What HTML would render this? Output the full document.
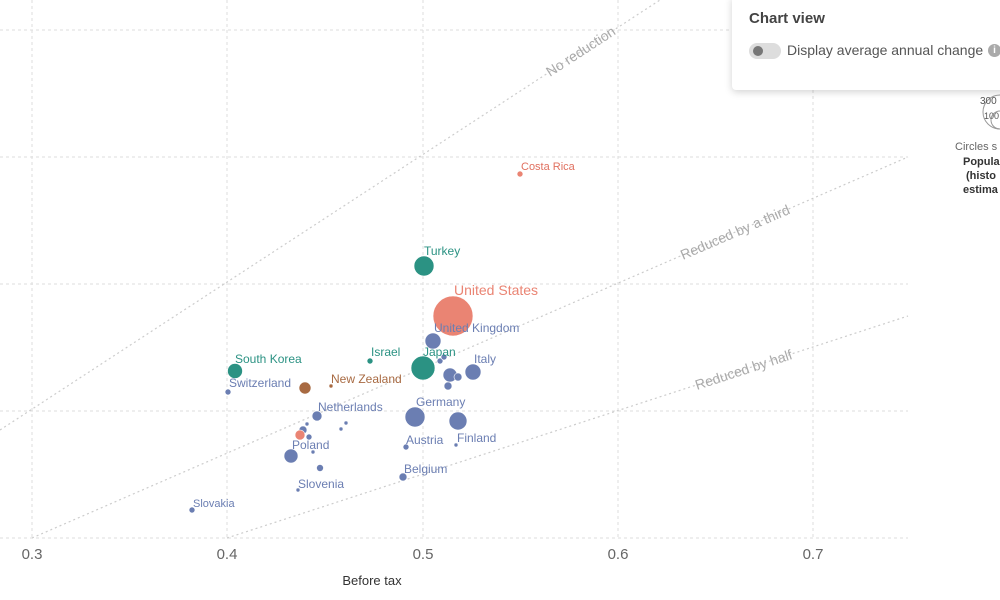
<!DOCTYPE html>
<html><head><meta charset="utf-8"><style>
body{margin:0;width:1000px;height:600px;overflow:hidden;background:#fff;font-family:"Liberation Sans",sans-serif}
svg{position:absolute;left:0;top:0}
.panel{position:absolute;left:732px;top:-4px;width:290px;height:94px;background:#fff;box-shadow:0 2px 8px rgba(0,0,0,.18);border-radius:4px}
</style></head><body>
<svg width="1000" height="600" font-family="Liberation Sans, sans-serif">
<g stroke="#ddd" stroke-dasharray="3,3" stroke-width="1">
<line x1="0" y1="30" x2="908" y2="30"/><line x1="0" y1="157" x2="908" y2="157"/><line x1="0" y1="284" x2="908" y2="284"/><line x1="0" y1="411" x2="908" y2="411"/><line x1="0" y1="538" x2="908" y2="538"/>
<line x1="32" y1="0" x2="32" y2="538"/><line x1="227" y1="0" x2="227" y2="538"/><line x1="423" y1="0" x2="423" y2="538"/><line x1="618" y1="0" x2="618" y2="538"/><line x1="813" y1="0" x2="813" y2="538"/>
</g>
<g stroke="#ccc" stroke-dasharray="2,3" stroke-width="1.2">
<line x1="0" y1="430" x2="660" y2="0"/>
<line x1="32" y1="538" x2="908" y2="157"/>
<line x1="227" y1="538" x2="908" y2="316"/>
</g>
<g fill="#aaa" font-size="14">
<text transform="translate(550,77) rotate(-33)">No reduction</text>
<text transform="translate(683,260) rotate(-23.4)">Reduced by a third</text>
<text transform="translate(697,390) rotate(-18)">Reduced by half</text>
</g>
<g fill="#6b7eb2" stroke="#fff" stroke-width="0.6">
<circle cx="450" cy="375" r="7"/><circle cx="458" cy="377" r="4"/><circle cx="448" cy="386" r="4"/><circle cx="440" cy="361" r="3"/><circle cx="444" cy="357" r="3"/>
<circle cx="433" cy="341" r="8"/><circle cx="473" cy="372" r="8"/><circle cx="228" cy="392" r="3"/><circle cx="317" cy="416" r="5"/>
<circle cx="415" cy="417" r="10"/><circle cx="458" cy="421" r="9"/><circle cx="456" cy="445" r="2"/><circle cx="406" cy="447" r="3"/>
<circle cx="303" cy="430" r="4"/><circle cx="307" cy="424" r="2"/><circle cx="309" cy="437" r="3"/><circle cx="313" cy="452" r="2"/><circle cx="341" cy="429" r="2"/><circle cx="346" cy="423" r="2"/>
<circle cx="291" cy="456" r="7"/><circle cx="320" cy="468" r="3.5"/><circle cx="298" cy="490" r="2"/><circle cx="403" cy="477" r="4"/><circle cx="192" cy="510" r="3"/>
</g>
<g stroke="#fff" stroke-width="0.6">
<circle cx="453" cy="316" r="20" fill="#ea8473"/><circle cx="300" cy="435" r="5" fill="#ea8473"/><circle cx="520" cy="174" r="3" fill="#ea8473"/>
<circle cx="424" cy="266" r="10" fill="#2b9283"/><circle cx="423" cy="368" r="12" fill="#2b9283"/><circle cx="370" cy="361" r="3" fill="#2b9283"/><circle cx="235" cy="371" r="7.5" fill="#2b9283"/>
<circle cx="305" cy="388" r="6" fill="#a86a42"/><circle cx="331" cy="386" r="2" fill="#a86a42"/>
</g>
<g font-size="12" fill="#6b7eb2">
<text x="434" y="332">United Kingdom</text><text x="474" y="363">Italy</text><text x="229" y="387">Switzerland</text><text x="318" y="411">Netherlands</text>
<text x="416" y="406">Germany</text><text x="457" y="442">Finland</text><text x="406" y="444">Austria</text><text x="292" y="449">Poland</text>
<text x="298" y="488">Slovenia</text><text x="404" y="473">Belgium</text><text x="193" y="507" font-size="11">Slovakia</text>
</g>
<g font-size="12" fill="#2b9283"><text x="424" y="255">Turkey</text><text x="423" y="356">Japan</text><text x="371" y="356">Israel</text><text x="235" y="363">South Korea</text></g>
<text x="454" y="295" font-size="14" fill="#ea8473">United States</text>
<text x="521" y="170" font-size="11" fill="#e0705f">Costa Rica</text>
<text x="331" y="383" font-size="12" fill="#a86a42">New Zealand</text>
<g font-size="15" fill="#666" text-anchor="middle">
<text x="32" y="559">0.3</text><text x="227" y="559">0.4</text><text x="423" y="559">0.5</text><text x="618" y="559">0.6</text><text x="813" y="559">0.7</text></g>
<text x="372" y="585" font-size="13" fill="#333" text-anchor="middle">Before tax</text>
<circle cx="1000" cy="112" r="17" fill="none" stroke="#999"/><circle cx="1000" cy="120" r="9" fill="none" stroke="#999"/>
<text x="980" y="104" font-size="10" fill="#555">300</text><text x="984" y="119" font-size="9" fill="#555">100</text>
<text x="955" y="150" font-size="11" fill="#666">Circles s</text>
<g font-size="11" font-weight="bold" fill="#333"><text x="963" y="165">Popula</text><text x="966" y="179">(histo</text><text x="963" y="193">estima</text></g>
</svg>
<div class="panel">
<div style="position:absolute;left:17px;top:14px;font-size:15px;color:#444;font-weight:bold">Chart view</div>
<div style="position:absolute;left:17px;top:47px;width:32px;height:16px;border-radius:8px;background:#ddd"><div style="position:absolute;left:4px;top:3px;width:10px;height:10px;border-radius:5px;background:#777"></div></div>
<div style="position:absolute;left:55px;top:46px;font-size:14px;color:#555">Display average annual change</div>
<div style="position:absolute;left:256px;top:48px;width:13px;height:13px;border-radius:7px;background:#aaa;color:#fff;font-size:10px;text-align:center;line-height:13px;font-weight:bold">i</div>
</div>
</body></html>
